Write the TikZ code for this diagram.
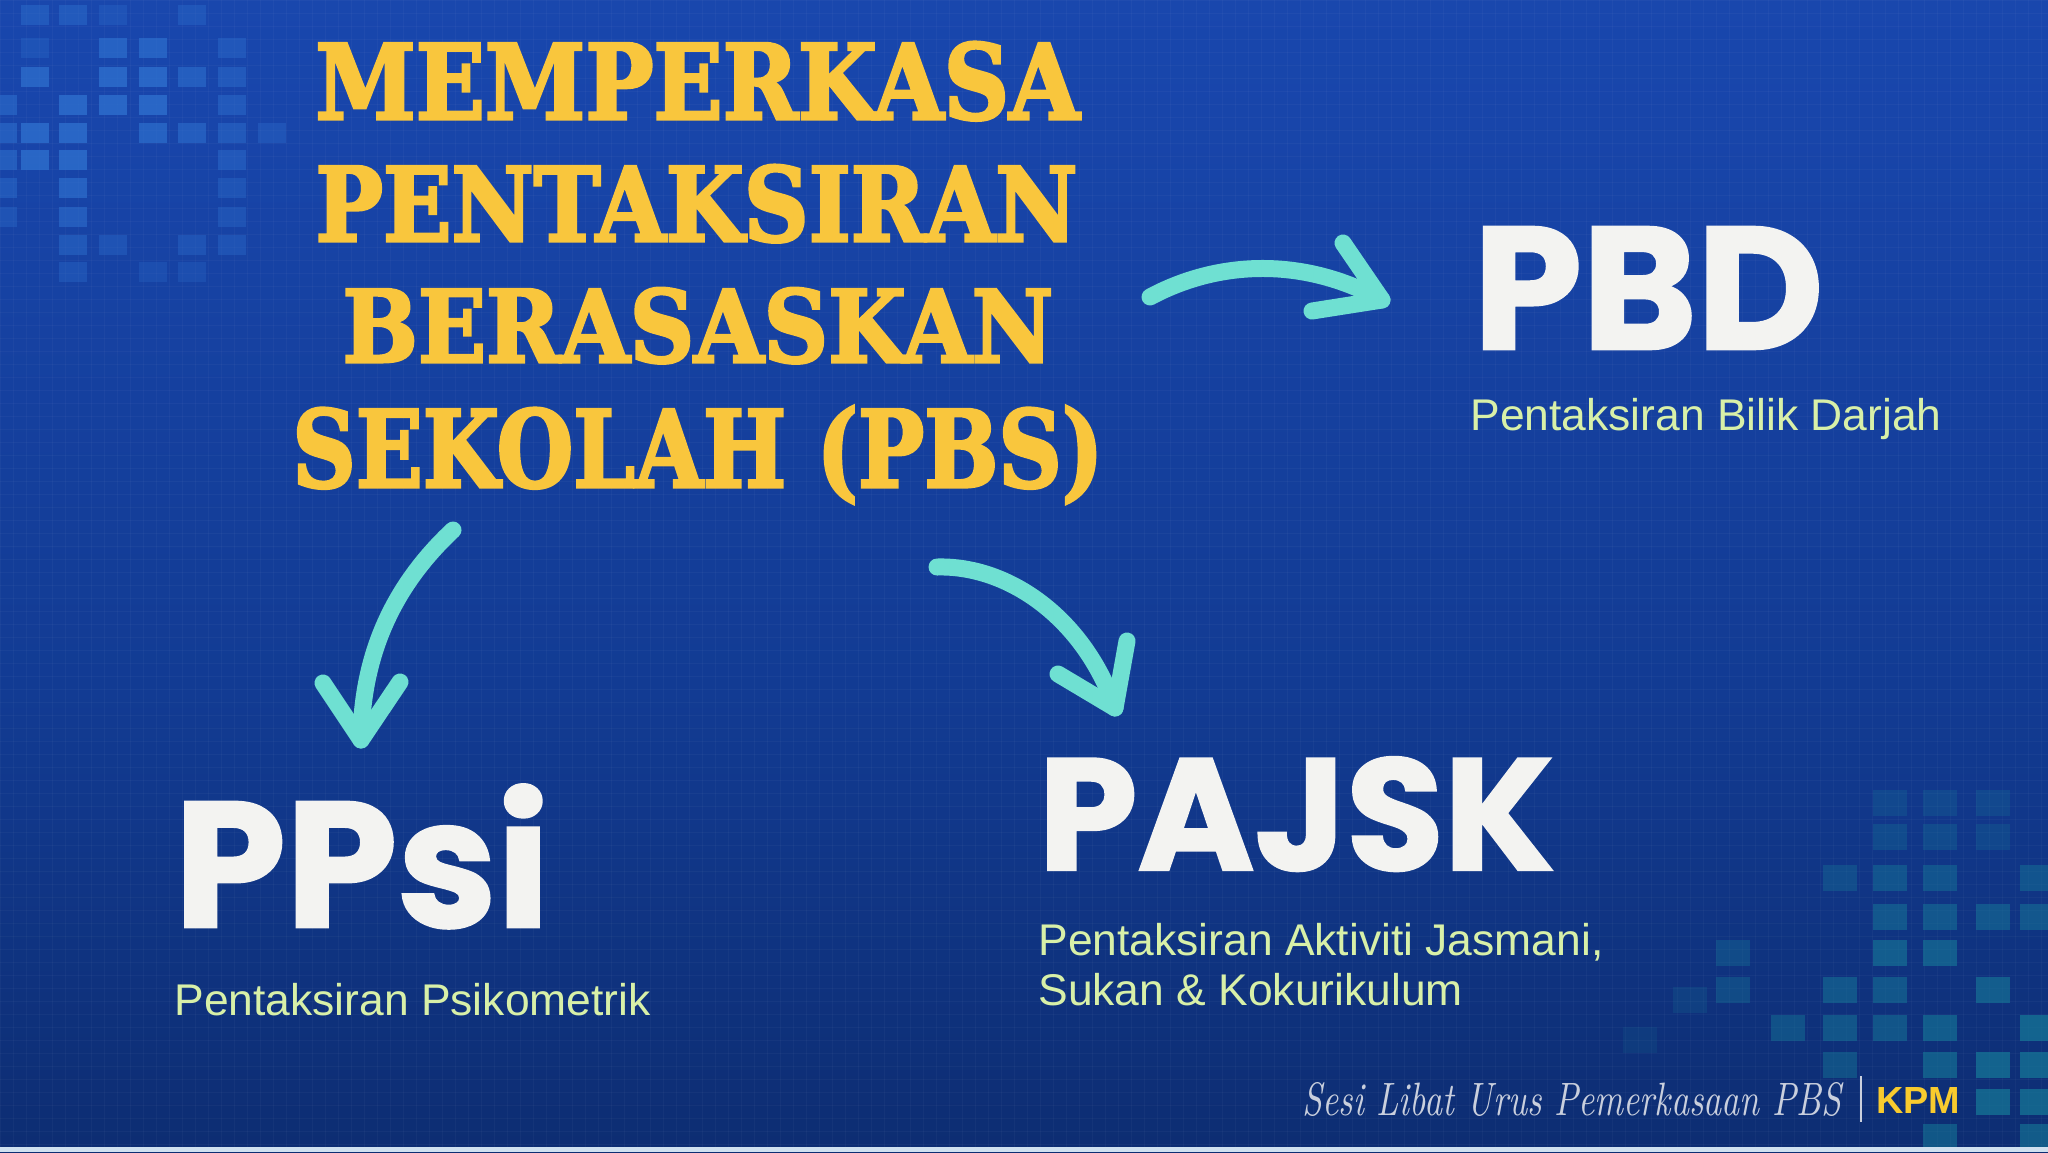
\documentclass[tikz,border=0pt]{standalone}
\usepackage{fontspec}
\usepackage{graphicx}
\newfontfamily\titlefont{DejaVu Serif}[BoldFeatures={FakeBold=3}]
\newfontfamily\bigfont{Poppins}[BoldFeatures={FakeBold=1.5}]
\newfontfamily\descfont{Liberation Sans}
\definecolor{ttlc}{HTML}{F9C63D}
\definecolor{bigc}{HTML}{F3F3F1}
\definecolor{descc}{HTML}{D8F0A8}
\definecolor{arrc}{HTML}{6FE0D2}
\definecolor{footc}{HTML}{C9CFDD}
\definecolor{kpmc}{HTML}{F8CB2E}
\definecolor{sqa}{HTML}{2F72D0}
\definecolor{sqb}{HTML}{167A98}
\definecolor{stripc}{HTML}{CFE0EF}
\definecolor{bgA}{HTML}{0A2156}
\definecolor{bgB}{HTML}{0D2D72}
\definecolor{bgC}{HTML}{123B93}
\definecolor{bgD}{HTML}{1845AA}
\definecolor{bgE}{HTML}{1C50BE}
\pgfdeclareverticalshading{bgshade}{100bp}{color(0bp)=(bgA); color(25bp)=(bgB); color(45bp)=(bgC); color(70bp)=(bgD); color(100bp)=(bgE)}
\tikzset{
  ttl/.style={font=\titlefont\bfseries, text=ttlc, inner sep=0pt, anchor=base west},
  big/.style={font=\bigfont\bfseries, text=bigc, inner sep=0pt, anchor=base west},
  desc/.style={font=\descfont\fontsize{22.2pt}{25pt}\selectfont, text=descc, inner sep=0pt, anchor=base west},
  arr/.style={draw=arrc, line width=8.5pt, line cap=round, line join=round},
  sqtl/.style={fill=sqa},
  sqbr/.style={fill=sqb}
}
\begin{document}
\begin{tikzpicture}[x=0.5pt,y=-0.5pt]
\useasboundingbox (0,0) rectangle (2048,1152);
% background
\shade[shading=bgshade] (0,0) rectangle (2048,1152);
\foreach \i in {0,13,...,2048} \draw[white, opacity=0.03, line width=0.4pt] (\i,0) -- (\i,1152);
\foreach \i in {0,13,...,1152} \draw[white, opacity=0.03, line width=0.4pt] (0,\i) -- (2048,\i);
% top-left squares
\foreach \x/\y/\o in {35/15/.45,73/15/.45,113/15/.3,192/15/.35,
  35/48/.3,113/48/.65,153/48/.65,232/48/.4,
  35/77/.7,113/77/.75,153/77/.75,192/77/.55,232/77/.45,
  3/105/.55,73/105/.75,113/105/.75,153/105/.75,232/105/.45,
  3/133/.55,35/133/.75,73/133/.75,153/133/.65,192/133/.55,232/133/.45,272/133/.35,
  3/160/.55,35/160/.75,73/160/.75,232/160/.45,
  3/188/.45,73/188/.65,232/188/.35,
  3/217/.35,73/217/.55,232/217/.35,
  73/245/.45,113/245/.35,192/245/.35,232/245/.35,
  73/272/.35,153/272/.25,192/272/.25}
  \fill[sqtl, opacity=\o] (\x-14,\y-10) rectangle (\x+14,\y+10);
% bottom-right squares
\foreach \x/\y/\o in {1890/803/.25,1940/803/.25,1993/803/.25,
  1890/837/.3,1940/837/.3,1993/837/.25,
  1840/878/.35,1890/878/.45,1940/878/.45,2037/878/.45,
  1890/917/.5,1940/917/.5,1993/917/.5,2037/917/.5,
  1733/953/.35,1890/953/.6,1940/953/.6,
  1733/990/.35,1840/990/.5,1890/990/.5,1993/990/.6,
  1788/1028/.45,1840/1028/.5,1890/1028/.5,1940/1028/.6,2037/1028/.7,
  1840/1065/.45,1940/1065/.6,1993/1065/.7,2037/1065/.7,
  1993/1102/.7,2037/1102/.7,
  1940/1137/.55,2037/1137/.6,
  1690/1000/.2,1640/1040/.15}
  \fill[sqbr, opacity=\o] (\x-17,\y-13) rectangle (\x+17,\y+13);
% title
\node[ttl] (t1) at (315,119) {\resizebox{382pt}{38.5pt}{MEMPERKASA}};
\node[ttl] (t2) at (315,241) {\resizebox{381pt}{38pt}{PENTAKSIRAN}};
\node[ttl] (t3) at (342,362) {\resizebox{355.5pt}{37pt}{BERASASKAN}};
\node[ttl] (t4) at (292,487) {\resizebox{405.5pt}{39.5pt}{SEKOLAH \smash{(}PBS\smash{)}}};
% big labels
\node[big] (pbd) at (1473,349) {\resizebox{175pt}{61pt}{PBD}};
\node[big] (ppsi) at (174,927) {\resizebox{187.5pt}{62.5pt}{PP\smash{si}}};
\node[big] (pajsk) at (1038,870) {\resizebox{258pt}{56.5pt}{PAJSK}};
% descriptions
\node[desc] (pbdd) at (1470,430) {Pentaksiran Bilik Darjah};
\node[desc] (ppsid) at (174,1015) {Pentaksiran Psikometrik};
\node[desc] (pajskd1) at (1038,955) {Pentaksiran Aktiviti Jasmani,};
\node[desc] (pajskd2) at (1038,1005) {Sukan \& Kokurikulum};
% arrows
\coordinate (a1s) at (1150,297);
\coordinate (a1e) at (1382,300);
\coordinate (a1u) at (1343,243);
\coordinate (a1l) at (1312,311);
\draw[arr] (a1s) .. controls (1215,262) and (1300,255) .. (a1e);
\draw[arr] (a1u) -- (a1e) -- (a1l);
\coordinate (a2s) at (453,530);
\coordinate (a2e) at (361,740);
\coordinate (a2u) at (323,683);
\coordinate (a2l) at (400,682);
\draw[arr] (a2s) .. controls (405,575) and (362,640) .. (a2e);
\draw[arr] (a2u) -- (a2e) -- (a2l);
\coordinate (a3s) at (937,567);
\coordinate (a3e) at (1115,708);
\coordinate (a3u) at (1127,641);
\coordinate (a3l) at (1058,674);
\draw[arr] (a3s) .. controls (1010,565) and (1085,620) .. (a3e);
\draw[arr] (a3u) -- (a3e) -- (a3l);
% footer
\node[inner sep=0pt, anchor=base west, text=footc] (foot) at (1302,1115) {\resizebox{269.5pt}{16.5pt}{\itshape Sesi Libat Urus Pemerkasaan PBS}};
\draw[footc, line width=1.2pt] (1861,1076) -- (1861,1122);
\node[inner sep=0pt, anchor=base west, text=kpmc] (kpm) at (1876,1113) {\resizebox{42pt}{13pt}{\descfont\bfseries KPM}};
\fill[stripc] (0,1147) rectangle (2048,1152);
\end{tikzpicture}
\end{document}
